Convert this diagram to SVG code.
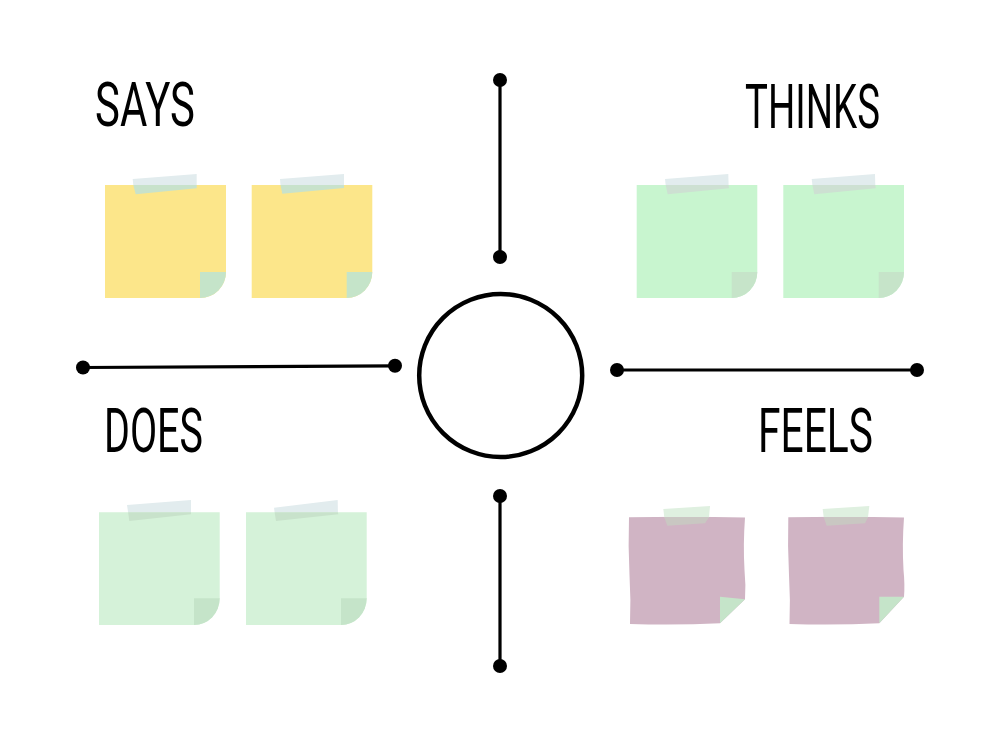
<svg xmlns="http://www.w3.org/2000/svg" width="1000" height="750" viewBox="0 0 1000 750">
<style>
.lbl{font-family:Roboto,"Liberation Sans",sans-serif;font-weight:400;font-size:61px;fill:#000}
.ln{stroke:#000;stroke-width:3.2;fill:none}
.dot{fill:#000}
.yel{fill:#fce68a}
.grn{fill:#c8f5cf}
.pgr{fill:#d5f2d9}
.mau{fill:#d0b4c4}
.curl{fill:#c5e4c9}
.curl2{fill:#c6e4c9}
.tape{fill:#e2ecee}
.tapeo{fill:#c8e2cb}
.tapeg{fill:#cde0d2}
.tapep{fill:#dff0e0}
.tapepo{fill:#c9c7c2}
</style>
<rect width="1000" height="750" fill="#fff"/>

<g id="connectors">
  <line class="ln" x1="500" y1="80" x2="500" y2="257"/>
  <circle class="dot" cx="500" cy="80" r="7"/>
  <circle class="dot" cx="500" cy="257" r="7"/>
  <line class="ln" x1="500" y1="496" x2="500" y2="666"/>
  <circle class="dot" cx="500" cy="496" r="7"/>
  <circle class="dot" cx="500" cy="666" r="7"/>
  <line class="ln" x1="83" y1="367.5" x2="395" y2="365.8"/>
  <circle class="dot" cx="83" cy="367.5" r="7"/>
  <circle class="dot" cx="395" cy="365.8" r="7"/>
  <line class="ln" x1="617" y1="370" x2="917" y2="370"/>
  <circle class="dot" cx="617" cy="370" r="7"/>
  <circle class="dot" cx="917" cy="370" r="7"/>
</g>

<g id="center">
  <circle cx="500.7" cy="375.5" r="81.5" fill="#fff" stroke="#000" stroke-width="4.5"/>
</g>

<g id="says">
  <text class="lbl" x="95" y="126" textLength="100" lengthAdjust="spacingAndGlyphs">SAYS</text>
  <g id="says-note1">
    <path class="yel" d="M105,185 H226 V272 A26,26 0 0 1 200,298 H105 Z"/>
    <path class="curl" d="M200,272 H226 A26,26 0 0 1 200,298 Z"/>
    <polygon class="tape" points="132.7,179 196.7,174 196.7,185 133.3,185"/>
    <polygon class="tapeo" points="133.3,185 196.7,185 196.7,188.3 135.7,194.3"/>
  </g>
  <g id="says-note2">
    <path class="yel" d="M251.7,185 H372.3 V272 A26,26 0 0 1 346.7,298 H251.7 Z"/>
    <path class="curl" d="M346.7,272 H372.3 A25.6,26 0 0 1 346.7,298 Z"/>
    <polygon class="tape" points="280,179 344,174 344,185 280.5,185"/>
    <polygon class="tapeo" points="280.5,185 344,185 344,188 282.3,193.7"/>
  </g>
</g>

<g id="thinks">
  <text class="lbl" x="745" y="128" textLength="135" lengthAdjust="spacingAndGlyphs">THINKS</text>
  <g id="thinks-note1">
    <path class="grn" d="M636.7,185 H757.3 V272 A25.6,26 0 0 1 731.7,298 H636.7 Z"/>
    <path class="curl2" d="M731.7,272 H757.3 A25.6,26 0 0 1 731.7,298 Z"/>
    <polygon class="tape" points="665,179 728.3,174 728.6,185 665.7,185"/>
    <polygon class="tapeg" points="665.7,185 728.6,185 729,188.3 667.7,194.3"/>
  </g>
  <g id="thinks-note2">
    <path class="grn" d="M783.3,185 H904 V272 A25.3,26 0 0 1 878.7,298 H783.3 Z"/>
    <path class="curl2" d="M878.7,272 H904 A25.3,26 0 0 1 878.7,298 Z"/>
    <polygon class="tape" points="811.7,179 875,174 875.3,185 812.4,185"/>
    <polygon class="tapeg" points="812.4,185 875.3,185 875.7,188.3 814.3,194.3"/>
  </g>
</g>

<g id="does">
  <text class="lbl" x="104" y="452" textLength="99" lengthAdjust="spacingAndGlyphs">DOES</text>
  <g id="does-note1">
    <path class="pgr" d="M99,512.3 H219.7 V598.3 A25.7,26.7 0 0 1 194,625 H99 Z"/>
    <path class="curl" d="M194,598.3 H219.7 A25.7,26.7 0 0 1 194,625 Z"/>
    <polygon class="tape" points="127,505 191,500 191,512.3 128.1,512.3"/>
    <polygon class="tapeo" points="128.1,512.3 191,512.3 191,514.3 129.3,521"/>
  </g>
  <g id="does-note2">
    <path class="pgr" d="M246,512.3 H366.7 V598.3 A25.7,26.7 0 0 1 341,625 H246 Z"/>
    <path class="curl" d="M341,598.3 H366.7 A25.7,26.7 0 0 1 341,625 Z"/>
    <polygon class="tape" points="274,507.7 337.7,500 337.9,512.3 274.6,512.3"/>
    <polygon class="tapeo" points="274.6,512.3 337.9,512.3 338.3,514.3 276,521"/>
  </g>
</g>

<g id="feels">
  <text class="lbl" x="758" y="452" textLength="115" lengthAdjust="spacingAndGlyphs">FEELS</text>
  <g id="feels-note1">
    <path class="mau" d="M629,517.3 Q687,516 745,517.5 Q743,545 744.5,570 Q746,585 745,599.3 L720,623.3 Q675,625.5 630,624 Q631,600 629.5,575 Q628,545 629,517.3 Z"/>
    <polygon class="curl" points="720,596.7 745,599.3 720,623.3"/>
    <polygon class="tapep" points="663.3,509 710,506 709,517.3 664.3,517.3"/>
    <polygon class="tapepo" points="664.3,517.3 709,517.3 705,523.3 667.3,525.7"/>
  </g>
  <g id="feels-note2">
    <path class="mau" d="M788.3,517.3 Q846,516 904,517.5 Q902,545 903.5,570 Q905,585 904,596.7 L879.3,623.3 Q834,625.5 789.5,624 Q790.5,600 789,575 Q787.5,545 788.3,517.3 Z"/>
    <polygon class="curl" points="879.3,596.7 904,596.7 879.3,623.3"/>
    <polygon class="tapep" points="822.7,509 869.3,506 868,517.3 823.7,517.3"/>
    <polygon class="tapepo" points="823.7,517.3 868,517.3 865,523.3 826.7,525.7"/>
  </g>
</g>
</svg>
